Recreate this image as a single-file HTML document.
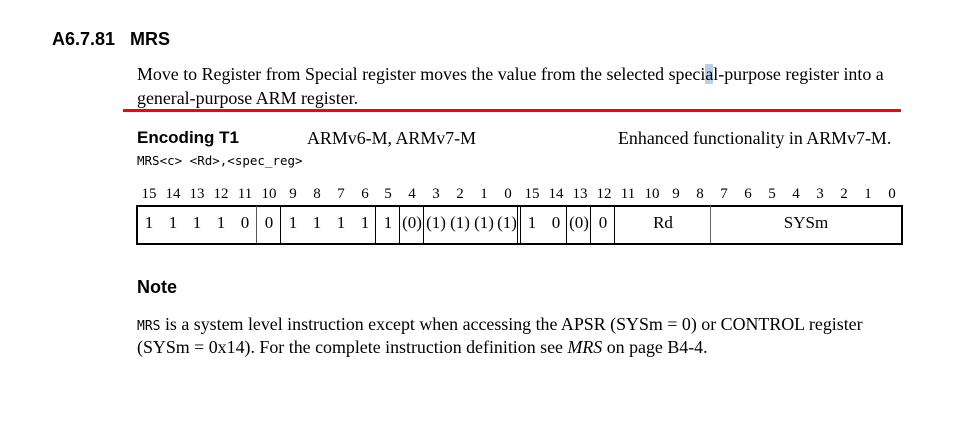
<!DOCTYPE html>
<html><head><meta charset="utf-8"><style>
body{margin:0;width:958px;height:428px;background:#fff;position:relative;overflow:hidden;color:#000}
.a{position:absolute;white-space:nowrap}
.sans{font-family:"Liberation Sans",sans-serif;font-weight:bold}
.serif{font-family:"Liberation Serif",serif;font-size:17.9px}
.mono{font-family:"DejaVu Sans Mono","Liberation Mono",monospace;font-size:12.5px}
.n{position:absolute;font-family:"Liberation Serif",serif;font-size:15px;width:24px;text-align:center;top:186px}
.c{position:absolute;font-family:"Liberation Serif",serif;font-size:17px;text-align:center;top:213px}
.v{position:absolute;top:206px;height:37px;width:1px;background:#000}
</style></head><body>
<div class="a sans" style="left:52px;top:29px;font-size:18px">A6.7.81&nbsp;&nbsp;&nbsp;MRS</div>
<div class="a serif" style="left:137px;top:64px">Move to Register from Special register moves the value from the selected speci<span style="background:#b8cfe8">a</span>l-purpose register into a</div>
<div class="a serif" style="left:137px;top:88px">general-purpose ARM register.</div>
<div class="a" style="left:123px;top:109px;width:778px;height:3px;background:#f00"></div>
<div class="a sans" style="left:137px;top:128px;font-size:17px">Encoding T1</div>
<div class="a serif" style="left:307px;top:128px">ARMv6-M, ARMv7-M</div>
<div class="a serif" style="left:618px;top:128px">Enhanced functionality in ARMv7-M.</div>
<div class="a mono" style="left:137px;top:153px">MRS&lt;c&gt; &lt;Rd&gt;,&lt;spec_reg&gt;</div>

<div class="a" style="left:136px;top:205px;width:763px;height:36px;border:2px solid #000"></div>
<div class="v" style="left:256px;background:#555"></div>
<div class="v" style="left:280px"></div>
<div class="v" style="left:375px"></div>
<div class="v" style="left:399px"></div>
<div class="v" style="left:423px"></div>
<div class="v" style="left:517px"></div>
<div class="v" style="left:520px"></div>
<div class="v" style="left:566px"></div>
<div class="v" style="left:590px"></div>
<div class="v" style="left:614px"></div>
<div class="v" style="left:710px;background:#666"></div>

<div class="n" style="left:137px">15</div><div class="n" style="left:161px">14</div><div class="n" style="left:185px">13</div><div class="n" style="left:209px">12</div><div class="n" style="left:233px">11</div><div class="n" style="left:257px">10</div><div class="n" style="left:281px">9</div><div class="n" style="left:305px">8</div><div class="n" style="left:329px">7</div><div class="n" style="left:353px">6</div><div class="n" style="left:376px">5</div><div class="n" style="left:400px">4</div><div class="n" style="left:424px">3</div><div class="n" style="left:448px">2</div><div class="n" style="left:472px">1</div><div class="n" style="left:496px">0</div>
<div class="n" style="left:520px">15</div><div class="n" style="left:544px">14</div><div class="n" style="left:568px">13</div><div class="n" style="left:592px">12</div><div class="n" style="left:616px">11</div><div class="n" style="left:640px">10</div><div class="n" style="left:664px">9</div><div class="n" style="left:688px">8</div><div class="n" style="left:712px">7</div><div class="n" style="left:736px">6</div><div class="n" style="left:760px">5</div><div class="n" style="left:784px">4</div><div class="n" style="left:808px">3</div><div class="n" style="left:832px">2</div><div class="n" style="left:856px">1</div><div class="n" style="left:880px">0</div>

<div class="c" style="left:137px;width:24px">1</div><div class="c" style="left:161px;width:24px">1</div><div class="c" style="left:185px;width:24px">1</div><div class="c" style="left:209px;width:24px">1</div><div class="c" style="left:233px;width:24px">0</div>
<div class="c" style="left:257px;width:24px">0</div>
<div class="c" style="left:281px;width:24px">1</div><div class="c" style="left:305px;width:24px">1</div><div class="c" style="left:329px;width:24px">1</div><div class="c" style="left:353px;width:24px">1</div>
<div class="c" style="left:376px;width:24px">1</div>
<div class="c" style="left:400px;width:24px">(0)</div>
<div class="c" style="left:424px;width:24px">(1)</div><div class="c" style="left:448px;width:24px">(1)</div><div class="c" style="left:472px;width:24px">(1)</div><div class="c" style="left:495px;width:24px">(1)</div>
<div class="c" style="left:520px;width:24px">1</div><div class="c" style="left:544px;width:24px">0</div>
<div class="c" style="left:567px;width:24px">(0)</div>
<div class="c" style="left:591px;width:24px">0</div>
<div class="c" style="left:615px;width:96px">Rd</div>
<div class="c" style="left:711px;width:190px">SYSm</div>

<div class="a sans" style="left:137px;top:277px;font-size:18px">Note</div>
<div class="a serif" style="left:137px;top:314px"><span class="mono" style="font-size:13px">MRS</span> is a system level instruction except when accessing the APSR (SYSm = 0) or CONTROL register</div>
<div class="a serif" style="left:137px;top:337px">(SYSm = 0x14). For the complete instruction definition see <i>MRS</i> on page B4-4.</div>
</body></html>
